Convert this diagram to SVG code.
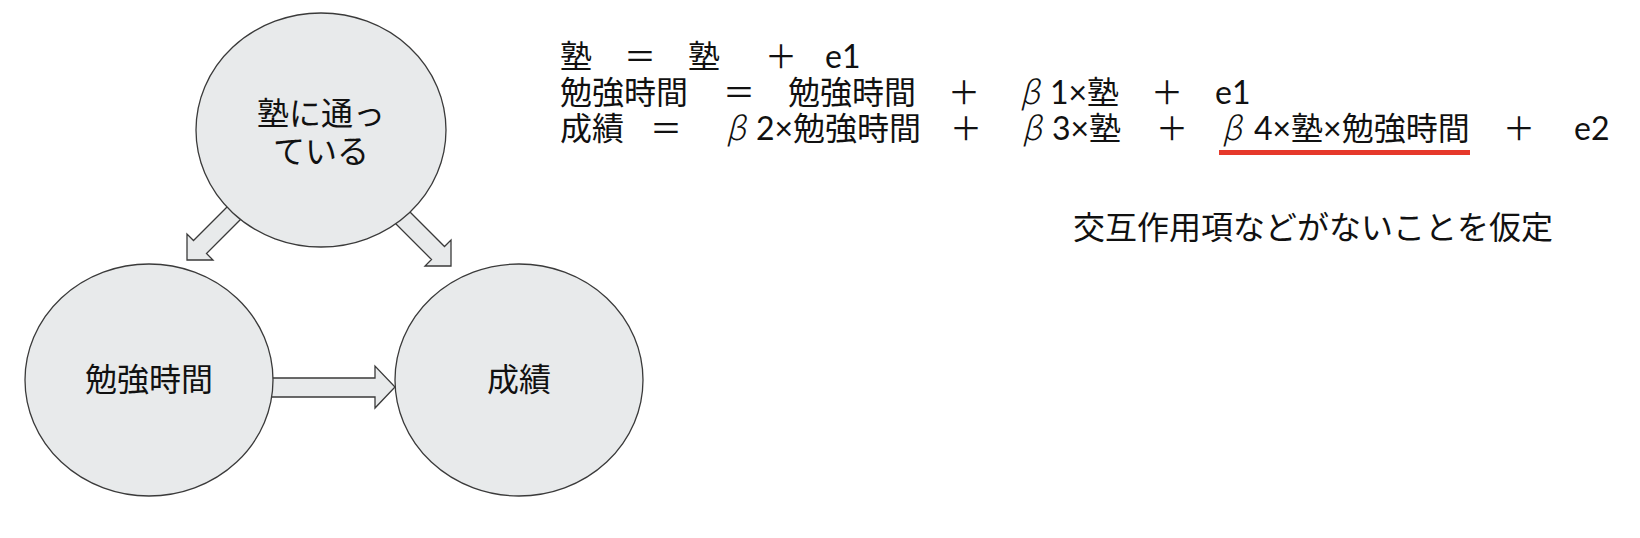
<svg xmlns="http://www.w3.org/2000/svg" width="1640" height="538" viewBox="0 0 1640 538">
<style>
.node ellipse{fill:#e8eaeb;stroke:#3a3a3a;stroke-width:1.3}
.arrow{fill:#e8eaeb;stroke:#3a3a3a;stroke-width:1.3;stroke-linejoin:miter}
text{font-family:Lato,"Noto Sans CJK JP",sans-serif;font-size:32px;fill:#111}
.cjk{font-family:"Noto Sans CJK JP",sans-serif}
.b{font-family:"Noto Sans CJK JP",sans-serif;font-style:italic;font-weight:300}
.c{text-anchor:middle}
</style>
<rect width="1640" height="538" fill="#fff"/>
<g id="connectors">
<polygon class="arrow" points="243.5,190.5 193.5,240.5 187,234 187,260 213,260 206.5,253.5 256.5,203.5"/>
<polygon class="arrow" points="394.5,196.5 444.5,246.5 451,240 451,266 425,266 431.5,259.5 381.5,209.5"/>
<polygon class="arrow" points="250,378 375,378 375,366 395,387 375,408 375,397 250,397"/>
</g>
<g id="node-juku" class="node">
<ellipse cx="321" cy="130" rx="125" ry="117"/>
<text class="c cjk" x="321" y="125">塾に通っ</text>
<text class="c cjk" x="321" y="163">ている</text>
</g>
<g id="node-benkyo" class="node">
<ellipse cx="149" cy="380" rx="124" ry="116"/>
<text class="c cjk" x="149" y="391">勉強時間</text>
</g>
<g id="node-seiseki" class="node">
<ellipse cx="519" cy="380" rx="124" ry="116"/>
<text class="c cjk" x="519" y="391">成績</text>
</g>
<g id="equations">
<text y="68"><tspan x="560">塾</tspan><tspan x="624">＝</tspan><tspan x="688">塾</tspan><tspan x="765">＋</tspan><tspan x="825">e1</tspan></text>
<text y="104"><tspan x="560">勉強時間</tspan><tspan x="723">＝</tspan><tspan x="788">勉強時間</tspan><tspan x="948">＋</tspan><tspan class="b" x="1020">β</tspan><tspan x="1050">1×塾</tspan><tspan x="1151">＋</tspan><tspan x="1215">e1</tspan></text>
<text y="140"><tspan x="560">成績</tspan><tspan x="650">＝</tspan><tspan class="b" x="726">β</tspan><tspan x="756">2×勉強時間</tspan><tspan x="950">＋</tspan><tspan class="b" x="1022">β</tspan><tspan x="1052">3×塾</tspan><tspan x="1156">＋</tspan><tspan class="b" x="1222">β</tspan><tspan x="1254">4×塾×勉強時間</tspan><tspan x="1503">＋</tspan><tspan x="1574">e2</tspan></text>
<rect x="1219" y="150" width="251" height="5" fill="#e6392b"/>
<text x="1073" y="239">交互作用項などがないことを仮定</text>
</g>
</svg>
